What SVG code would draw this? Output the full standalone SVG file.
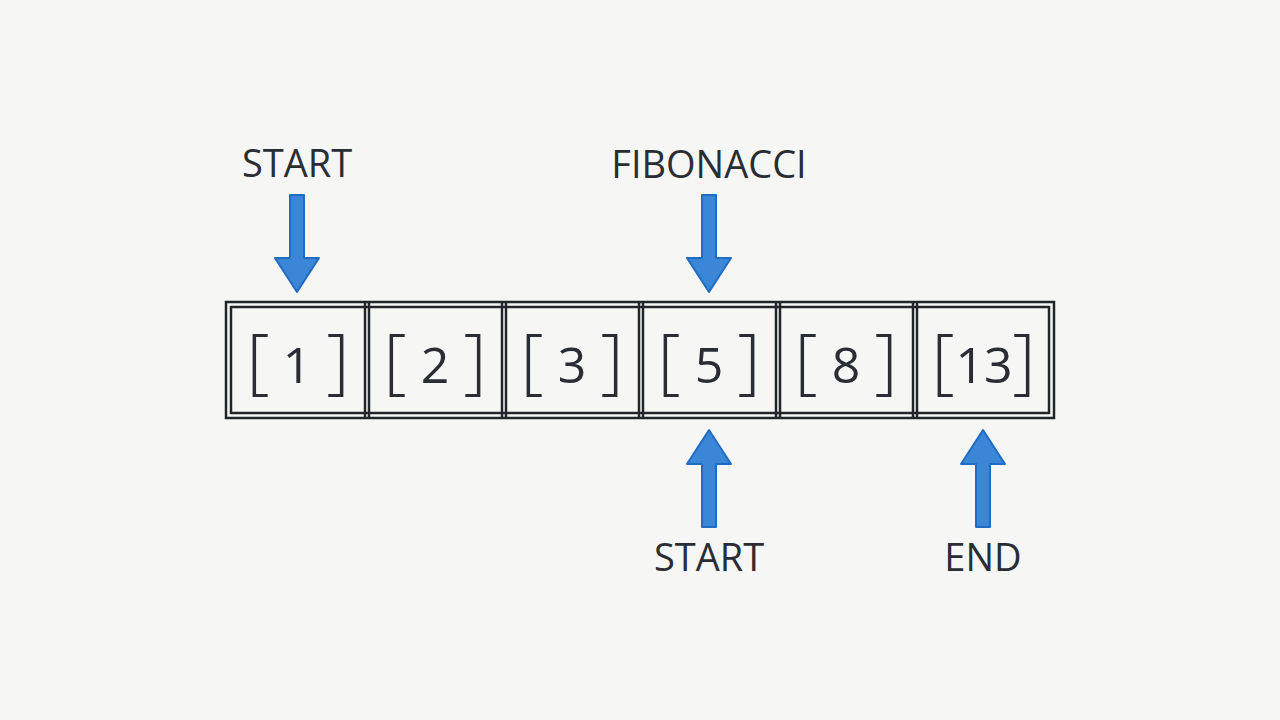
<svg xmlns="http://www.w3.org/2000/svg" width="1280" height="720" viewBox="0 0 1280 720">
<defs>
<style>
.lbl{font-family:"Open Sans","Liberation Sans",sans-serif;font-size:38px;fill:#2a2d33;text-anchor:middle}
.br{font-family:"Open Sans","Liberation Sans",sans-serif;font-size:72px;fill:#2a2d33;text-anchor:middle;font-weight:300}
.num{font-family:"Open Sans","Liberation Sans",sans-serif;font-size:50px;fill:#2a2d33;text-anchor:middle}
.box{fill:none;stroke:#22252a;stroke-width:2.5}
.arr{fill:#3b86d6;stroke:#1f6cc4;stroke-width:2;stroke-linejoin:round}
</style>
<path id="down" d="M-7,-97 H7 V-34 H22 L0,0 L-22,-34 H-7 Z"/>
</defs>
<rect width="1280" height="720" fill="#f6f6f5"/>
<g id="array">
<rect class="box" x="226" y="302" width="828" height="116"/>
<rect class="box" x="231" y="307" width="818" height="106"/>
<g class="box">
<line x1="365" y1="302" x2="365" y2="418"/><line x1="369" y1="302" x2="369" y2="418"/>
<line x1="502" y1="302" x2="502" y2="418"/><line x1="506" y1="302" x2="506" y2="418"/>
<line x1="639" y1="302" x2="639" y2="418"/><line x1="643" y1="302" x2="643" y2="418"/>
<line x1="776" y1="302" x2="776" y2="418"/><line x1="780" y1="302" x2="780" y2="418"/>
<line x1="913" y1="302" x2="913" y2="418"/><line x1="917" y1="302" x2="917" y2="418"/>
</g>
</g>
<g id="cell1"><text class="br" x="258" y="386">[</text><text class="num" x="297" y="383">1</text><text class="br" x="338" y="386">]</text></g>
<g id="cell2"><text class="br" x="395" y="386">[</text><text class="num" x="435" y="383">2</text><text class="br" x="475" y="386">]</text></g>
<g id="cell3"><text class="br" x="532" y="386">[</text><text class="num" x="572" y="383">3</text><text class="br" x="612" y="386">]</text></g>
<g id="cell4"><text class="br" x="669" y="386">[</text><text class="num" x="709" y="383">5</text><text class="br" x="749" y="386">]</text></g>
<g id="cell5"><text class="br" x="806" y="386">[</text><text class="num" x="846" y="383">8</text><text class="br" x="886" y="386">]</text></g>
<g id="cell6"><text class="br" x="943" y="386">[</text><text class="num" x="984" y="383">13</text><text class="br" x="1024" y="386">]</text></g>
<g id="connectors">
<use href="#down" class="arr" transform="translate(297,292)"/>
<use href="#down" class="arr" transform="translate(709,292)"/>
<use href="#down" class="arr" transform="translate(709,430) scale(1,-1)"/>
<use href="#down" class="arr" transform="translate(983,430) scale(1,-1)"/>
</g>
<g id="labels">
<text class="lbl" x="297" y="177">START</text>
<text class="lbl" x="709" y="178">FIBONACCI</text>
<text class="lbl" x="709" y="571">START</text>
<text class="lbl" x="983" y="571">END</text>
</g>
</svg>
